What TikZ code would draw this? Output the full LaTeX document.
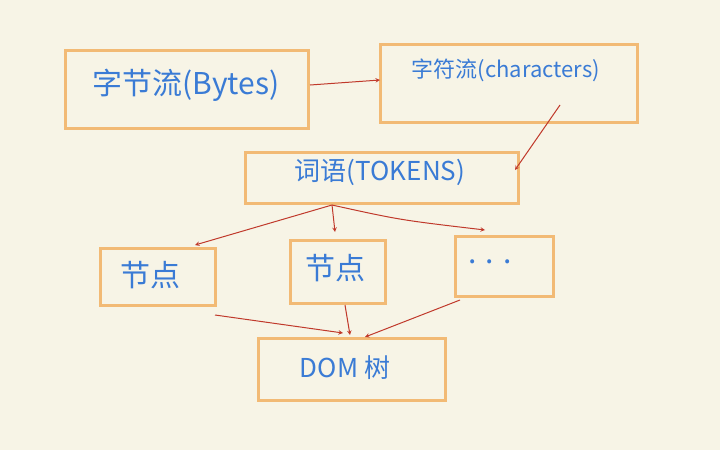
\documentclass[tikz,border=0pt]{standalone}
\usepackage{fontspec}
\newfontfamily\cjk{Noto Sans CJK SC}[Scale=1]
\begin{document}
\begin{tikzpicture}[x=1pt,y=-1pt,
  box/.style={draw=boxc,line width=3pt,opacity=0.85},
  lab/.style={text=txtc,font=\cjk\fontsize{30}{34}\selectfont,anchor=center},
  arr/.style={draw=arrc,line width=1pt,->,>=stealth}]
\definecolor{bg}{HTML}{F7F4E6}
\definecolor{boxc}{HTML}{F2B062}
\definecolor{txtc}{HTML}{3A7BD5}
\definecolor{arrc}{HTML}{C0392B}
\fill[bg] (0,0) rectangle (720,450);
\useasboundingbox (0,0) rectangle (720,450);
\draw[box] (65,50) rectangle (308,128);
\node[lab] (b) at (186,85) {字节流(Bytes)};
\draw[box] (380,44) rectangle (637,122);
\node[lab,font=\cjk\fontsize{22}{26}\selectfont] (c) at (506,70) {字符流(characters)};
\draw[box] (245,152) rectangle (518,203);
\node[lab,font=\cjk\fontsize{26}{30}\selectfont] (t) at (380,172) {词语(TOKENS)};
\draw[box] (100,248) rectangle (215,305);
\node[lab] (n1) at (150,275) {节点};
\draw[box] (290,240) rectangle (385,303);
\node[lab] (n2) at (335,268) {节点};
\draw[box] (455,236) rectangle (553,296);
\node[lab] (n3) at (490,262) {. . .};
\draw[box] (258,338) rectangle (445,400);
\node[lab,font=\cjk\fontsize{26}{30}\selectfont] (d) at (345,368) {DOM 树};
\coordinate (b1) at (310,85); \coordinate (c1) at (380,80);
\draw[arr] (b1) -- (c1);
\coordinate (c2) at (560,105); \coordinate (t1) at (515,170);
\draw[arr] (c2) -- (t1);
\coordinate (t2) at (332,205);
\coordinate (m1) at (195,245); \coordinate (m2) at (335,232); \coordinate (m3) at (485,230);
\draw[arr] (t2) -- (m1);
\draw[arr] (t2) -- (m2);
\draw[arr] (t2) .. controls (400,220) .. (m3);
\coordinate (p1) at (215,315); \coordinate (p2) at (345,305); \coordinate (p3) at (460,300);
\coordinate (q1) at (343,333); \coordinate (q2) at (350,335); \coordinate (q3) at (365,337);
\draw[arr] (p1) -- (q1);
\draw[arr] (p2) -- (q2);
\draw[arr] (p3) -- (q3);
\end{tikzpicture}
\end{document}
